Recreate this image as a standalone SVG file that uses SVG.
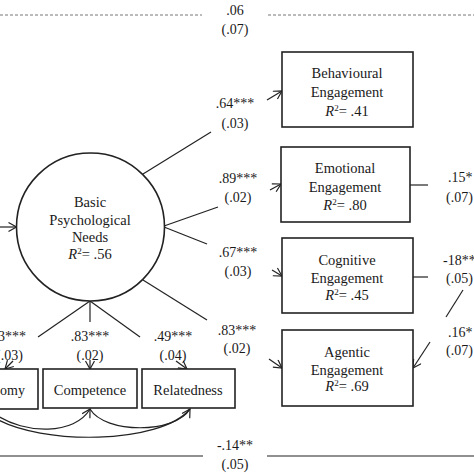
<svg xmlns="http://www.w3.org/2000/svg" width="474" height="474" viewBox="0 0 474 474">
<style>
text{font-family:"Liberation Serif","Times New Roman",serif;fill:#1a1a1a}
.t{font-size:14.5px;text-anchor:middle}
.l{font-size:14px;text-anchor:middle}
.s{font-size:14px}
.box{fill:#fff;stroke:#222;stroke-width:1.6}
.ln{fill:none;stroke:#222;stroke-width:1.2}
</style>
<defs>
<marker id="ah" markerUnits="userSpaceOnUse" markerWidth="12" markerHeight="12" refX="9" refY="5" orient="auto-start-reverse">
<path d="M1,0.5 L9,5 L1,9.5" fill="none" stroke="#222" stroke-width="1.2"/>
</marker>
</defs>
<rect width="474" height="474" fill="#fff"/>

<g id="connectors">
<line x1="0" y1="15" x2="202" y2="15" stroke="#777" stroke-width="1" stroke-dasharray="3 2"/>
<line x1="268" y1="15" x2="474" y2="15" stroke="#777" stroke-width="1" stroke-dasharray="3 2"/>
<line class="ln" x1="0" y1="456" x2="203" y2="456"/>
<line class="ln" x1="267" y1="456" x2="474" y2="456"/>
<line class="ln" x1="0" y1="227" x2="16.5" y2="227" marker-end="url(#ah)"/>
<line class="ln" x1="143" y1="174" x2="211" y2="132"/>
<line class="ln" x1="164" y1="226" x2="218" y2="207"/>
<line class="ln" x1="164" y1="227" x2="207" y2="244"/>
<line class="ln" x1="143" y1="280" x2="207" y2="320"/>
<line class="ln" x1="267" y1="100" x2="282" y2="91" marker-end="url(#ah)"/>
<line class="ln" x1="270" y1="190" x2="281" y2="184" marker-end="url(#ah)"/>
<line class="ln" x1="272" y1="270" x2="282" y2="276" marker-end="url(#ah)"/>
<line class="ln" x1="269" y1="359" x2="282" y2="368" marker-end="url(#ah)"/>
<line class="ln" x1="90" y1="301" x2="38" y2="337"/>
<line class="ln" x1="90" y1="301" x2="90" y2="322"/>
<line class="ln" x1="90" y1="301" x2="140" y2="337"/>
<line class="ln" x1="90" y1="360" x2="90" y2="369" marker-end="url(#ah)"/>
<line class="ln" x1="176" y1="361" x2="187" y2="369" marker-end="url(#ah)"/>
<line class="ln" x1="13" y1="361" x2="5" y2="369" marker-end="url(#ah)"/>
<line class="ln" x1="410" y1="185" x2="428" y2="185"/>
<line class="ln" x1="413" y1="277" x2="428" y2="277"/>
<line class="ln" x1="463" y1="290" x2="446" y2="317"/>
<line class="ln" x1="430" y1="342" x2="413" y2="368" marker-end="url(#ah)"/>
<path class="ln" d="M-5,414 C25,435 75,435 90,409" marker-end="url(#ah)"/>
<path class="ln" d="M90,409 C105,434 175,434 190,409" marker-end="url(#ah)"/>
<path class="ln" d="M-5,418 C40,445 160,445 190,409"/>
</g>

<g id="bpn">
<circle cx="90.5" cy="227" r="74" fill="#fff" stroke="#222" stroke-width="1.6"/>
<text class="t" x="90" y="207">Basic</text>
<text class="t" x="90" y="225">Psychological</text>
<text class="t" x="90" y="242">Needs</text>
<text class="t" x="90" y="259"><tspan font-style="italic">R</tspan><tspan font-size="9" dy="-5">2</tspan><tspan dy="5">= .56</tspan></text>
</g>

<g id="behavioural">
<rect class="box" x="282" y="52" width="131" height="75"/>
<text class="t" x="347" y="78">Behavioural</text>
<text class="t" x="347" y="97">Engagement</text>
<text class="t" x="347" y="116"><tspan font-style="italic">R</tspan><tspan font-size="9" dy="-5">2</tspan><tspan dy="5">= .41</tspan></text>
</g>

<g id="emotional">
<rect class="box" x="281" y="147" width="129" height="75"/>
<text class="t" x="345" y="173">Emotional</text>
<text class="t" x="345" y="192">Engagement</text>
<text class="t" x="345" y="210"><tspan font-style="italic">R</tspan><tspan font-size="9" dy="-5">2</tspan><tspan dy="5">= .80</tspan></text>
</g>

<g id="cognitive">
<rect class="box" x="282" y="238" width="131" height="75"/>
<text class="t" x="347" y="265">Cognitive</text>
<text class="t" x="347" y="283">Engagement</text>
<text class="t" x="347" y="300"><tspan font-style="italic">R</tspan><tspan font-size="9" dy="-5">2</tspan><tspan dy="5">= .45</tspan></text>
</g>

<g id="agentic">
<rect class="box" x="282" y="330" width="131" height="76"/>
<text class="t" x="347" y="357">Agentic</text>
<text class="t" x="347" y="375">Engagement</text>
<text class="t" x="347" y="391"><tspan font-style="italic">R</tspan><tspan font-size="9" dy="-5">2</tspan><tspan dy="5">= .69</tspan></text>
</g>

<g id="autonomy">
<rect class="box" x="-20" y="369" width="58" height="40"/>
<text class="s" x="0" y="395">omy</text>
</g>

<g id="competence">
<rect class="box" x="43" y="369" width="94" height="39"/>
<text class="t" x="90" y="395">Competence</text>
</g>

<g id="relatedness">
<rect class="box" x="142" y="369" width="93" height="39"/>
<text class="t" x="188" y="395">Relatedness</text>
</g>

<g id="labels">
<text class="l" x="235" y="15">.06</text>
<text class="l" x="235" y="34">(.07)</text>
<text class="l" x="235" y="108">.64***</text>
<text class="l" x="235" y="128">(.03)</text>
<text class="l" x="238" y="183">.89***</text>
<text class="l" x="238" y="202">(.02)</text>
<text class="l" x="238" y="257">.67***</text>
<text class="l" x="238" y="276">(.03)</text>
<text class="l" x="237" y="335">.83***</text>
<text class="l" x="237" y="353">(.02)</text>
<text class="s" x="-2" y="341">3***</text>
<text class="s" x="-4" y="360">(.03)</text>
<text class="l" x="90" y="341">.83***</text>
<text class="l" x="90" y="360">(.02)</text>
<text class="l" x="173" y="341">.49***</text>
<text class="l" x="173" y="360">(.04)</text>
<text class="s" x="448" y="182">.15*</text>
<text class="s" x="446" y="202">(.07)</text>
<text class="s" x="443" y="265">-18**</text>
<text class="s" x="446" y="283">(.05)</text>
<text class="s" x="448" y="337">.16*</text>
<text class="s" x="446" y="355">(.07)</text>
<text class="l" x="235" y="450">-.14**</text>
<text class="l" x="235" y="469">(.05)</text>
</g>
</svg>
